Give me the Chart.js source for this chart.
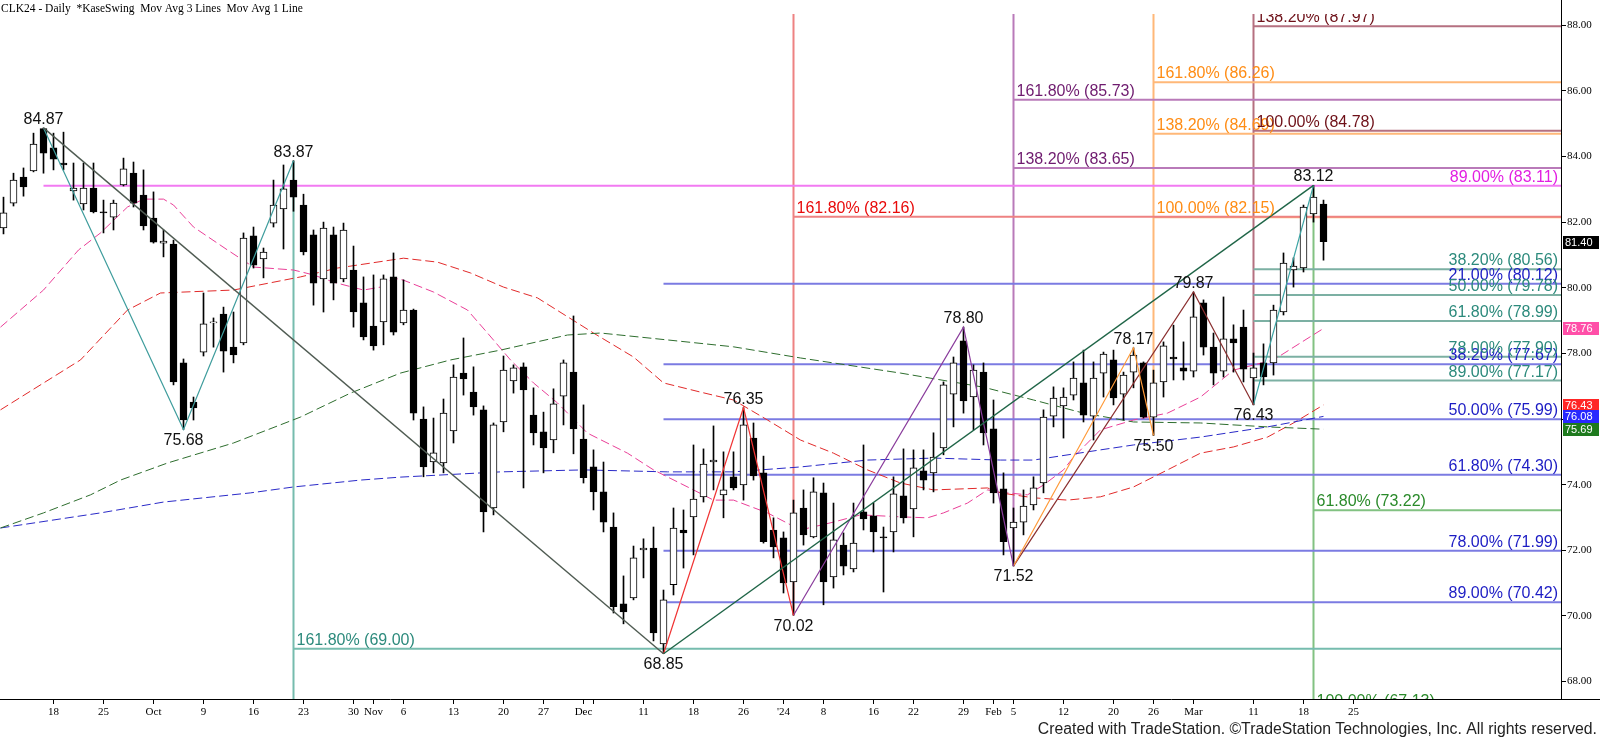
<!DOCTYPE html>
<html>
<head>
<meta charset="utf-8">
<script src="https://cdn.jsdelivr.net/npm/chart.js@4.4.1/dist/chart.umd.min.js"></script>
<style>
  html, body { margin: 0; padding: 0; background: #fff; overflow: hidden; }
  canvas { display: block; }
</style>
</head>
<body>
<canvas id="chart" width="1600" height="739" style="width:1600px;height:739px"></canvas>
<script>
// daily OHLC, index 0 = Sep 11 2023 ... 132 = Mar 20 2024 (trading days)
const opens = [81.82,82.58,83.37,83.56,84.85,84.26,83.80,82.95,82.55,83.04,82.31,82.15,83.13,83.49,82.82,82.12,81.36,81.33,77.71,76.52,
  78.04,78.93,79.20,78.19,78.32,81.58,80.88,81.97,82.40,83.28,82.52,81.61,80.27,81.61,80.27,80.54,79.54,78.83,78.96,80.33,
  78.93,79.32,76.00,74.69,74.66,75.64,77.40,76.82,76.28,73.29,75.91,77.16,77.59,76.12,75.61,75.36,76.70,77.43,75.39,74.54,
  73.78,72.71,70.37,70.55,72.01,72.07,69.15,70.95,72.62,73.02,73.63,74.69,73.69,74.24,73.99,75.42,74.36,72.62,72.38,71.04,
  73.29,72.41,73.75,71.19,72.16,71.43,73.17,73.05,72.41,72.56,73.66,73.26,74.42,74.36,75.12,76.76,78.38,76.67,77.43,75.70,
  73.87,72.68,72.86,73.38,74.05,76.09,76.40,76.73,77.10,76.09,77.40,77.80,76.76,77.43,77.71,76.06,77.13,77.89,77.56,77.46,
  79.54,78.19,77.46,78.44,78.80,77.25,77.71,77.71,79.26,80.54,80.60,82.25,82.55];
const highs = [82.76,83.49,83.65,84.71,84.87,84.71,84.74,83.80,83.80,83.80,82.67,82.67,83.95,83.83,83.59,82.92,81.76,81.45,77.83,76.67,
  79.84,79.08,79.41,79.26,81.67,81.85,81.21,83.28,83.74,83.87,82.85,81.76,82.00,81.85,81.97,81.27,80.33,80.39,80.39,81.06,
  80.24,79.35,76.37,76.03,76.61,77.65,78.47,77.59,76.40,75.88,77.92,77.65,77.71,76.95,76.21,76.92,77.80,79.14,76.43,75.06,
  74.69,73.14,71.22,72.13,72.35,72.71,70.79,73.29,73.23,75.21,75.09,75.79,75.00,75.00,76.35,75.88,74.87,72.99,72.56,73.53,
  73.84,74.21,74.05,73.44,72.53,73.44,75.21,73.44,72.71,74.24,75.09,75.06,75.06,75.58,77.13,77.89,78.80,77.65,77.71,76.58,
  74.36,73.29,73.84,74.24,76.28,76.98,76.95,77.74,78.10,77.74,78.04,78.10,77.43,78.17,77.74,77.49,78.35,78.86,78.35,79.87,
  79.63,78.62,79.72,78.87,79.32,78.01,78.29,79.47,81.06,80.91,82.52,83.12,82.67];
const lows = [81.64,82.49,82.79,83.53,83.49,83.59,83.59,82.67,82.37,82.28,81.67,81.76,83.10,82.46,81.76,81.36,80.94,77.04,75.68,75.97,
  77.92,78.19,77.43,77.71,78.26,80.60,80.30,81.85,81.18,82.33,81.00,79.47,79.26,79.63,80.18,78.80,78.41,78.10,78.26,78.56,
  78.87,75.97,74.24,74.36,74.36,75.27,76.73,76.12,72.56,73.08,75.61,76.79,73.90,75.21,74.36,74.97,75.82,74.94,74.05,73.23,
  72.56,70.09,69.76,70.49,71.16,69.24,68.85,70.64,71.46,71.86,73.47,73.84,72.99,73.84,73.53,74.14,72.22,71.77,70.70,70.02,
  72.16,72.38,70.34,70.85,71.25,71.34,72.62,71.95,70.73,71.95,72.83,72.41,73.84,73.78,74.91,75.76,76.18,75.67,75.21,73.44,
  71.86,71.52,72.47,73.23,73.75,75.76,75.42,76.58,75.91,75.36,76.67,76.43,75.97,76.95,76.03,75.50,76.67,77.19,77.19,77.28,
  77.95,77.04,77.28,77.43,77.13,76.43,77.04,77.34,79.17,80.02,80.48,82.00,80.84];
const closes = [82.28,83.28,83.07,84.38,84.10,83.92,83.74,83.04,83.04,82.31,82.28,82.58,83.62,82.58,81.88,81.39,81.42,77.13,75.97,76.34,
  78.90,78.96,78.07,77.95,81.51,80.69,81.09,82.52,83.01,82.76,81.09,80.14,81.82,80.14,81.76,79.26,78.50,78.23,80.27,78.65,
  79.32,76.18,74.54,74.97,76.18,77.28,77.22,76.37,73.17,75.82,77.49,77.56,76.89,75.58,75.12,76.46,77.71,75.70,74.21,73.78,
  72.86,70.28,70.12,71.77,72.07,69.48,70.49,72.68,72.53,73.56,74.63,74.75,73.84,73.90,75.82,74.27,72.26,72.10,71.01,73.14,
  72.47,73.78,71.04,72.32,71.52,72.22,72.96,72.56,72.38,73.72,72.99,74.51,74.14,74.84,77.04,77.71,76.55,77.49,75.58,73.75,
  72.26,72.86,73.35,73.90,76.06,76.64,76.67,77.25,76.12,77.25,77.98,76.64,77.34,77.95,76.06,77.10,78.23,77.83,77.46,79.11,
  78.19,77.40,78.44,78.32,77.52,77.56,77.28,79.32,80.75,80.66,82.46,82.76,81.40];

// date axis ticks (trading-day index)
const tickIdx = [5,10,15,20,25,30,35,37,40,45,50,54,58,59,64,69,74,78,82,87,91,96,99,101,106,111,115,119,125,130,135];
const tickLbl = ['18','25','Oct','9','16','23','30','Nov','6','13','20','27','Dec','','11','18','26',"'24",'8','16','22','29','Feb','5','12','20','26','Mar','11','18','25'];
const yTicks = [68,70,72,74,76,78,80,82,84,86,88];

// moving averages, read at sample points
const pinkIdx = [-0.3,4,7.5,9.7,12.4,14,16,17,19,22.4,25,29,31,33,36,37.7,39,40,43,46.4,48.4,50.7,53,55.4,58.4,62.4,65,69,71,73,76.4,79.7,83,85.7,89.7,92.4,94,96.4,98.4,100.4,102.4,104,106,107,109.7,113,116.4,119.7,123,127,129.7,132];
const pinkVal = [78.80,79.93,81.15,81.67,82.46,82.70,82.70,82.52,81.85,81.15,80.63,80.54,80.39,80.17,79.93,80.02,80.30,80.23,79.87,79.32,78.62,77.80,77.10,76.49,75.57,74.96,74.45,73.84,73.53,73.53,73.14,72.62,72.86,73.08,73.02,72.99,73.14,73.44,73.84,73.75,73.69,73.99,74.45,74.84,75.67,75.97,76.18,76.67,77.49,77.80,78.32,78.76];
const redIdx = [-0.3,7.7,12.4,15.7,23,29.7,33.4,40,43.4,46.7,50,53.4,59,63,66,69.7,73,76.4,79.7,83,86.4,89.7,93,98.4,99.7,103,106.4,109.7,113,116.4,119.7,123,126.4,129,132];
const redVal = [76.28,77.80,79.32,79.84,79.93,80.33,80.60,80.90,80.78,80.45,80.02,79.69,78.62,77.89,77.10,76.82,76.58,75.97,75.36,74.96,74.45,74.05,73.84,73.90,73.75,73.60,73.53,73.63,73.93,74.45,74.96,75.15,75.45,75.88,76.43];
const blueIdx = [-0.3,9.7,16,24.7,29,35.7,39.7,49.7,58,66.4,73,79.7,86.4,93,99.7,103,109.7,113,119.7,126.4,132];
const blueVal = [72.68,73.14,73.47,73.75,73.93,74.14,74.23,74.39,74.45,74.39,74.39,74.54,74.75,74.81,74.75,74.75,75.06,75.21,75.45,75.76,76.08];
const greenIdx = [-0.3,4,8.7,11.7,16.4,23,29.7,34.7,39.7,44.7,49.7,56.4,59.7,66.4,73,79.7,89.7,98,103,108,113,119.7,126.4,132];
const greenVal = [72.68,73.14,73.69,74.14,74.66,75.27,76.06,76.79,77.40,77.80,78.10,78.56,78.62,78.41,78.20,77.86,77.40,76.97,76.58,76.18,75.91,75.88,75.76,75.69];

// swing pivots
const pivotIdx = [4,18,29,66,74,79,96,101,113,115,119,125,131];
const pivotVal = [84.87,75.68,83.87,68.85,76.35,70.02,78.80,71.52,78.17,75.50,79.87,76.43,83.12];
const pivotHigh = [true,false,true,false,true,false,true,false,true,false,true,false,true];

// fib levels
const magLvl = [83.11], magPct = ['89.00%'];
const blueLvl = [80.12,77.67,75.99,74.30,71.99,70.42], bluePct = ['21.00%','38.20%','50.00%','61.80%','78.00%','89.00%'];
const tealLvl = [80.56,79.78,78.99,77.90,77.17], tealPct = ['38.20%','50.00%','61.80%','78.00%','89.00%'];
const tealExtLvl = [69.00], tealExtPct = ['161.80%'];
const redLvl = [82.16], redPct = ['161.80%'];
const purpLvl = [85.73,83.65], purpPct = ['161.80%','138.20%'];
const orgLvl = [86.26,84.69,82.15], orgPct = ['161.80%','138.20%','100.00%'];
const marLvl = [87.97,84.78], marPct = ['138.20%','100.00%'];
const grnLvl = [73.22,67.13], grnPct = ['61.80%','100.00%'];

const X_MIN = -0.35, X_MAX = 155.75, Y_MIN = 67.47, Y_MAX = 88.34;

// pivot = index into pivot arrays; vert = direction of the projection line
const fibGroups = [
  { lvl: magLvl, pct: magPct, pivot: 0, vert: null, right: true, line: '#f27af2', text: '#e21ee2' },
  { lvl: blueLvl, pct: bluePct, pivot: 3, vert: null, right: true, line: '#7b7be2', text: '#1c1cc4' },
  { lvl: tealLvl, pct: tealPct, pivot: 11, vert: null, right: true, line: '#7cb0a3', text: '#2c8a7c' },
  { lvl: tealExtLvl, pct: tealExtPct, pivot: 2, vert: 'down', right: false, line: '#76bcae', text: '#2c8a7c' },
  { lvl: redLvl, pct: redPct, pivot: 5, vert: 'up', right: false, line: '#ee8282', text: '#e80a0a' },
  { lvl: purpLvl, pct: purpPct, pivot: 7, vert: 'up', right: false, line: '#b97ab9', text: '#6e1a6e' },
  { lvl: orgLvl, pct: orgPct, pivot: 9, vert: 'up', right: false, line: '#ffb878', text: '#ff8c14' },
  { lvl: marLvl, pct: marPct, pivot: 11, vert: 'up', right: false, line: '#b57080', text: '#6e1018' },
  { lvl: grnLvl, pct: grnPct, pivot: 12, vert: 'down', right: false, line: '#82c282', text: '#2a8a2a' }
];

const swings = [
  { pts: [0, 3], color: '#4f5b52', w: 1.4 },
  { pts: [3, 12], color: '#1f6547', w: 1.4 },
  { pts: [0, 1, 2], color: '#3f9d9d', w: 1.2 },
  { pts: [3, 4, 5], color: '#f03434', w: 1.2 },
  { pts: [5, 6, 7], color: '#8a3c9c', w: 1.2 },
  { pts: [7, 8, 9], color: '#ff9a38', w: 1.2 },
  { pts: [7, 10, 11], color: '#8b3030', w: 1.2 },
  { pts: [11, 12], color: '#3aa3a3', w: 1.2 }
];

function seg(points, color, width, order, dash) {
  return { type: 'line', data: points, borderColor: color, borderWidth: width, borderDash: dash || [],
           pointRadius: 0, fill: false, tension: 0, order: order };
}

const datasets = [];

// fib lines (back)
fibGroups.forEach(g => {
  const start = pivotIdx[g.pivot];
  g.lvl.forEach(v => datasets.push(seg([{ x: start, y: v }, { x: X_MAX, y: v }], g.line, 2, 6)));
  if (g.vert) {
    datasets.push(seg([{ x: start, y: pivotVal[g.pivot] }, { x: start, y: g.vert === 'up' ? Y_MAX : Y_MIN }], g.line, 2, 6));
  }
});

// moving averages
const mas = [
  { idx: greenIdx, val: greenVal, color: '#2e6e2e' },
  { idx: blueIdx, val: blueVal, color: '#2a2ac8' },
  { idx: redIdx, val: redVal, color: '#e22a2a' },
  { idx: pinkIdx, val: pinkVal, color: '#ea3f98' }
];
mas.forEach(m => datasets.push(seg(m.idx.map((x, i) => ({ x: x, y: m.val[i] })), m.color, 1, 5, [9, 4])));

// candles: wick + body as floating bars
datasets.push({
  type: 'bar', data: lows.map((l, i) => ({ x: i, y: [l, highs[i]] })),
  backgroundColor: '#000', borderWidth: 0, barThickness: 1, grouped: false, order: 4
});
datasets.push({
  type: 'bar', data: opens.map((o, i) => ({ x: i, y: [o, closes[i]] })),
  backgroundColor: opens.map((o, i) => closes[i] >= o ? '#fff' : '#000'),
  borderColor: '#000', borderWidth: 1, borderSkipped: false, barThickness: 7, grouped: false, order: 3
});

// swing lines on top
swings.forEach(s => datasets.push(seg(s.pts.map(p => ({ x: pivotIdx[p], y: pivotVal[p] })), s.color, s.w, 1)));

const overlay = {
  id: 'overlay',
  beforeDraw(chart) {
    const ctx = chart.ctx;
    ctx.save();
    ctx.fillStyle = '#fff';
    ctx.fillRect(0, 0, chart.width, chart.height);
    ctx.restore();
  },
  afterDatasetsDraw(chart) {
    const ctx = chart.ctx, xs = chart.scales.x, ys = chart.scales.y, a = chart.chartArea;
    ctx.save();
    ctx.beginPath();
    ctx.rect(a.left, a.top, a.right - a.left, a.bottom - a.top);
    ctx.clip();
    ctx.font = '16px "Liberation Sans", Arial, sans-serif';
    ctx.textBaseline = 'alphabetic';
    fibGroups.forEach(g => {
      ctx.fillStyle = g.text;
      const px = xs.getPixelForValue(pivotIdx[g.pivot]);
      g.lvl.forEach((v, k) => {
        const txt = g.pct[k] + ' (' + v.toFixed(2) + ')';
        const py = ys.getPixelForValue(v) - 4;
        if (g.right) { ctx.textAlign = 'right'; ctx.fillText(txt, a.right - 3, py); }
        else { ctx.textAlign = 'left'; ctx.fillText(txt, px + 3, py); }
      });
    });
    // pivot values
    ctx.fillStyle = '#111';
    ctx.textAlign = 'center';
    pivotIdx.forEach((p, k) => {
      const px = xs.getPixelForValue(p), py = ys.getPixelForValue(pivotVal[k]);
      if (pivotHigh[k]) { ctx.textBaseline = 'alphabetic'; ctx.fillText(pivotVal[k].toFixed(2), px, py - 4); }
      else { ctx.textBaseline = 'top'; ctx.fillText(pivotVal[k].toFixed(2), px, py + 3); }
    });
    ctx.restore();
  },
  afterDraw(chart) {
    const ctx = chart.ctx, ys = chart.scales.y, a = chart.chartArea;
    ctx.save();
    ctx.strokeStyle = '#000';
    ctx.lineWidth = 1;
    ctx.beginPath();
    ctx.moveTo(a.right, a.bottom + 0.5); ctx.lineTo(chart.width, a.bottom + 0.5);
    ctx.moveTo(a.right + 0.5, 0); ctx.lineTo(a.right + 0.5, a.top);
    ctx.stroke();

    // last values on the price axis
    const boxes = [
      { v: closes[closes.length - 1], bg: '#000' },
      { v: pinkVal[pinkVal.length - 1], bg: '#ff4fa8' },
      { v: redVal[redVal.length - 1], bg: '#ff2626' },
      { v: blueVal[blueVal.length - 1], bg: '#2828ff' },
      { v: greenVal[greenVal.length - 1], bg: '#1e7a1e' }
    ];
    ctx.font = '11px "Liberation Sans", Arial, sans-serif';
    ctx.textAlign = 'left';
    ctx.textBaseline = 'middle';
    boxes.forEach(b => {
      const y = Math.round(ys.getPixelForValue(b.v));
      ctx.fillStyle = b.bg;
      ctx.fillRect(a.right + 2, y - 6, 36, 13);
      ctx.fillStyle = '#fff';
      ctx.fillText(b.v.toFixed(2), a.right + 4, y + 1);
    });

    ctx.fillStyle = '#000';
    ctx.font = '11.5px "Liberation Serif", "Times New Roman", serif';
    ctx.textBaseline = 'alphabetic';
    ctx.fillText('CLK24 - Daily  *KaseSwing  Mov Avg 3 Lines  Mov Avg 1 Line', 1, 12);

    ctx.fillStyle = '#222';
    ctx.font = '15.8px "Liberation Sans", Arial, sans-serif';
    ctx.textAlign = 'right';
    ctx.fillText('Created with TradeStation. \u00A9TradeStation Technologies, Inc. All rights reserved.', 1597, 734);
    ctx.restore();
  }
};

new Chart(document.getElementById('chart'), {
  type: 'bar',
  data: { datasets: datasets },
  options: {
    responsive: false,
    devicePixelRatio: 1,
    animation: false,
    events: [],
    layout: { padding: { top: 14, left: 0, right: 0, bottom: 0 } },
    plugins: { legend: { display: false }, tooltip: { enabled: false }, title: { display: false } },
    scales: {
      x: {
        type: 'linear', min: X_MIN, max: X_MAX, offset: false, position: 'bottom',
        grid: { display: true, drawOnChartArea: false, drawTicks: true, tickLength: 5, color: '#000', offset: false },
        border: { display: true, color: '#000' },
        ticks: {
          autoSkip: false, maxRotation: 0, padding: 2, color: '#000',
          font: { family: '"Liberation Serif", "Times New Roman", serif', size: 11 },
          callback: (v, i) => tickLbl[i]
        },
        afterBuildTicks: s => { s.ticks = tickIdx.map(v => ({ value: v })); },
        afterFit: s => { s.height = 40; }
      },
      y: {
        type: 'linear', position: 'right', min: Y_MIN, max: Y_MAX,
        grid: { display: true, drawOnChartArea: false, tickLength: 5, color: '#000' },
        border: { display: true, color: '#000' },
        ticks: {
          padding: 1, color: '#000',
          font: { family: '"Liberation Serif", "Times New Roman", serif', size: 11 },
          callback: v => v.toFixed(2)
        },
        afterBuildTicks: s => { s.ticks = yTicks.map(v => ({ value: v })); },
        afterFit: s => { s.width = 39; }
      }
    }
  },
  plugins: [overlay]
});
</script>
</body>
</html>
